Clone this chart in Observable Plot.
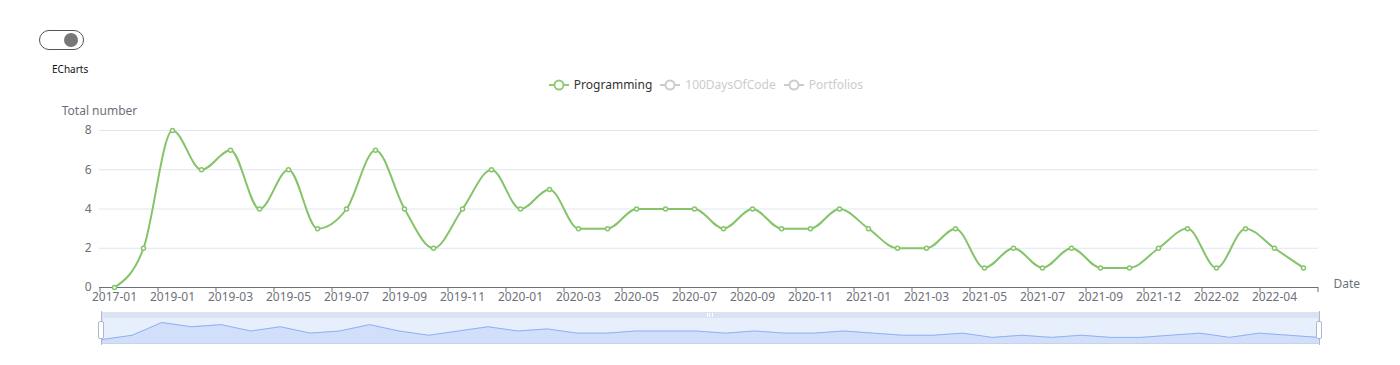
<!DOCTYPE html>
<html>
<head>
<meta charset="utf-8">
<script src="https://cdn.jsdelivr.net/npm/d3@7"></script>
<script src="https://cdn.jsdelivr.net/npm/@observablehq/plot@0.6"></script>
<style>
  html, body { margin: 0; padding: 0; background: #fff; }
  body { font-family: "Noto Sans", "Open Sans", sans-serif; }
  #wrap { position: relative; width: 1400px; height: 365px; overflow: hidden; }
  .abs { position: absolute; }
  #toggle { left: 39px; top: 30px; width: 43px; height: 18px; border: 1.5px solid #555; border-radius: 11px; box-sizing: content-box; }
  #knob { position: absolute; left: 24px; top: 2px; width: 14px; height: 14px; border-radius: 50%; background: #777; }
  #tlabel { left: 52px; top: 62px; font-size: 10px; color: #111; }
  #legend { left: 6px; width: 1400px; top: 76px; text-align: center; font-size: 12px; white-space: nowrap; }
  .li { display: inline-flex; align-items: center; margin: 0 4px; }
  .li svg { margin-right: 5px; }
  #slider-bg { left: 102px; top: 312px; width: 1217px; height: 32px; background: #e8effc; border: 1px solid #d8e0f0; box-sizing: border-box; }
  #slider-strip { left: 102px; top: 312px; width: 1217px; height: 6px; background: #dbe2f2; }
  #slider-grip { left: 707px; top: 313px; width: 6px; height: 4px; border-left: 1px solid #fff; border-right: 1px solid #fff; box-sizing: border-box; }
  #slider-grip2 { left: 709px; top: 313px; width: 2px; height: 4px; border-left: 1px solid #fff; box-sizing: border-box; }
  .hline { top: 311px; width: 1px; height: 34px; background: #acb8d1; }
  .hbox { top: 321px; width: 6px; height: 18px; background: #fff; border: 1px solid #acb8d1; border-radius: 2px; box-sizing: border-box; }
</style>
</head>
<body>
<div id="wrap"></div>
<script>
// ---- data ----
const dates = [
  "2017-01","2018-12","2019-01","2019-02","2019-03","2019-04","2019-05","2019-06",
  "2019-07","2019-08","2019-09","2019-10","2019-11","2019-12","2020-01","2020-02",
  "2020-03","2020-04","2020-05","2020-06","2020-07","2020-08","2020-09","2020-10",
  "2020-11","2020-12","2021-01","2021-02","2021-03","2021-04","2021-05","2021-06",
  "2021-07","2021-08","2021-09","2021-10","2021-12","2022-01","2022-02","2022-03",
  "2022-04","2022-05"
];
const programming = [
  0,2,8,6,7,4,6,3,
  4,7,4,2,4,6,4,5,
  3,3,4,4,4,3,4,3,
  3,4,3,2,2,3,1,2,
  1,2,1,1,2,3,1,3,
  2,1
];
const yTicks = [0,2,4,6,8];
const legendNames = ["Programming","100DaysOfCode","Portfolios"];
const legendActive = [true,false,false];
const xLabelTicks = dates.filter((d,i) => i % 2 === 0);
const sliderFloor = -2.35;

const data = dates.map((d,i) => ({date: d, idx: i, value: programming[i]}));

const green = "#91cc75";
const axisGray = "#6E7079";
const wrap = document.getElementById("wrap");

// ---- main chart ----
const W = 1400, H = 365, mL = 99, mR = 82, mT = 130, mB = 78;
const step = (W - mL - mR) / dates.length;

const main = Plot.plot({
  width: W, height: H,
  marginLeft: mL, marginRight: mR, marginTop: mT, marginBottom: mB,
  style: {fontFamily: '"Noto Sans", "Open Sans", sans-serif', fontSize: "12px", color: axisGray, background: "transparent"},
  x: {type: "point", domain: dates, padding: 0.5},
  y: {domain: [0, 8]},
  marks: [
    Plot.gridY(yTicks, {stroke: "#E0E6F1", strokeOpacity: 1}),
    Plot.axisY(yTicks, {tickSize: 0, tickPadding: 8, label: null, fill: axisGray, fontSize: 12}),
    Plot.ruleY([0], {stroke: axisGray}),
    Plot.axisX(xLabelTicks, {tickSize: 0, tickPadding: 5, label: null, fill: axisGray, fontSize: 12}),
    Plot.axisX(xLabelTicks, {tickSize: 5, tickFormat: null, label: null, stroke: axisGray, dx: -step/2}),
    Plot.axisX([dates[dates.length-1]], {tickSize: 5, tickFormat: null, label: null, stroke: axisGray, dx: step/2}),
    Plot.line(data, {x: "date", y: "value", curve: "monotone-x", stroke: "#85c46a", strokeWidth: 2}),
    Plot.dot(data, {x: "date", y: "value", r: 2, fill: "#fff", stroke: "#85c46a", strokeWidth: 1.5}),
    Plot.text(["Total number"], {frameAnchor: "top-left", dy: -24, textAnchor: "middle", fill: axisGray, fontSize: 12}),
    Plot.text(["Date"], {frameAnchor: "bottom-right", dx: 15, textAnchor: "start", fill: axisGray, fontSize: 12})
  ]
});
main.classList.add("abs");
main.style.left = "0px"; main.style.top = "0px";

// ---- slider chrome (background) ----
function addDiv(id, cls) {
  const d = document.createElement("div");
  if (id) d.id = id;
  d.className = "abs" + (cls ? " " + cls : "");
  wrap.appendChild(d);
  return d;
}
wrap.appendChild(main);
addDiv("slider-bg");
addDiv("slider-strip");
addDiv("slider-grip");
addDiv("slider-grip2");

// ---- slider data shadow ----
const sTop = 305, sH = 45;
const slider = Plot.plot({
  width: W, height: sH,
  marginLeft: 0, marginRight: 0, marginTop: 0, marginBottom: 0,
  style: {background: "transparent", overflow: "visible"},
  x: {type: "linear", domain: [0, dates.length - 1], range: [102, 1318], axis: null},
  y: {domain: [0, 8], range: [34, 17], axis: null},
  marks: [
    Plot.areaY(data, {x: "idx", y1: () => sliderFloor, y2: "value", fill: "#8fb0f7", fillOpacity: 0.25}),
    Plot.line(data, {x: "idx", y: "value", stroke: "#8fb0f7", strokeWidth: 1})
  ]
});
slider.classList.add("abs");
slider.style.left = "0px"; slider.style.top = sTop + "px";
wrap.appendChild(slider);

// handles
[101, 1319].forEach(x => {
  const l = addDiv(null, "hline"); l.style.left = x + "px";
  const b = addDiv(null, "hbox"); b.style.left = (x - 3) + "px";
});

// ---- toggle ----
const tg = addDiv("toggle");
const kn = document.createElement("div"); kn.id = "knob"; tg.appendChild(kn);
const tl = addDiv("tlabel"); tl.textContent = "ECharts";

// ---- legend ----
const lg = addDiv("legend");
legendNames.forEach((n, i) => {
  const c = legendActive[i] ? green : "#ccc";
  const item = document.createElement("span");
  item.className = "li";
  item.innerHTML = `<svg width="20" height="14"><line x1="0" y1="7" x2="20" y2="7" stroke="${c}" stroke-width="2"/><circle cx="10" cy="7" r="4.5" fill="#fff" stroke="${c}" stroke-width="2"/></svg>`;
  const t = document.createElement("span");
  t.textContent = n;
  t.style.color = legendActive[i] ? "#333" : "#ccc";
  item.appendChild(t);
  lg.appendChild(item);
});
</script>
</body>
</html>
